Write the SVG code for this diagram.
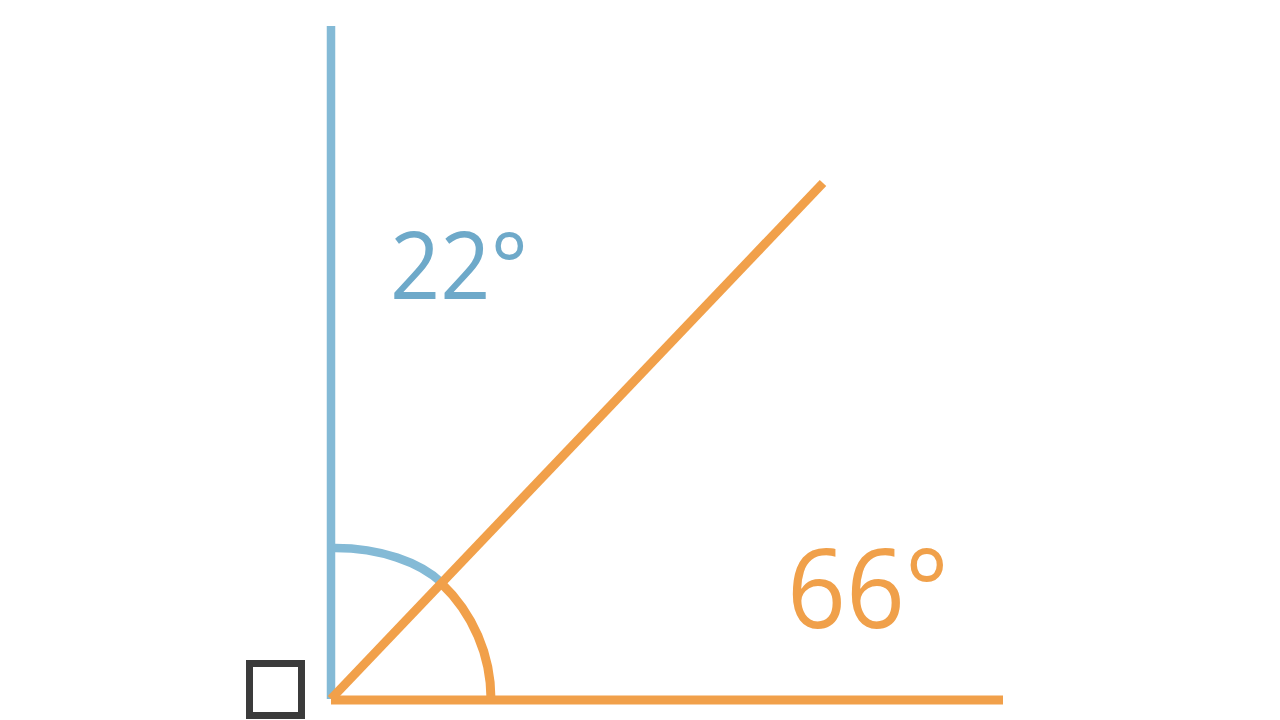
<svg xmlns="http://www.w3.org/2000/svg" width="1280" height="720" viewBox="0 0 1280 720">
<style>
.blue{stroke:#84bad6;fill:none;stroke-width:8.5}
.orange{stroke:#f1a04a;fill:none;stroke-width:9}
.lbl{font-family:"Open Sans","Noto Sans",sans-serif}
</style>
<rect width="1280" height="720" fill="#ffffff"/>
<g id="connectors">
<line id="vertical" class="blue" x1="331" y1="26" x2="331" y2="699"/>
<path id="blue-arc" class="blue" d="M 335 548 C 380 548 420 562 442 583"/>
<line id="horizontal" class="orange" x1="331" y1="700" x2="1003" y2="700"/>
<line id="diagonal" class="orange" x1="331" y1="699" x2="823" y2="183"/>
<path id="orange-arc" class="orange" d="M 441 583 A 160 160 0 0 1 491 699"/>
</g>
<g id="right-angle-mark">
<rect x="249.5" y="663.5" width="52" height="52" fill="none" stroke="#3b3b3b" stroke-width="7"/>
</g>
<g id="label-22">
<text class="lbl" x="390" y="299" font-size="93" fill="#6ea9c9" textLength="138" lengthAdjust="spacingAndGlyphs">22°</text>
</g>
<g id="label-66">
<text class="lbl" x="787" y="628" font-size="110" fill="#f0a04a" textLength="162" lengthAdjust="spacingAndGlyphs">66°</text>
</g>
</svg>
